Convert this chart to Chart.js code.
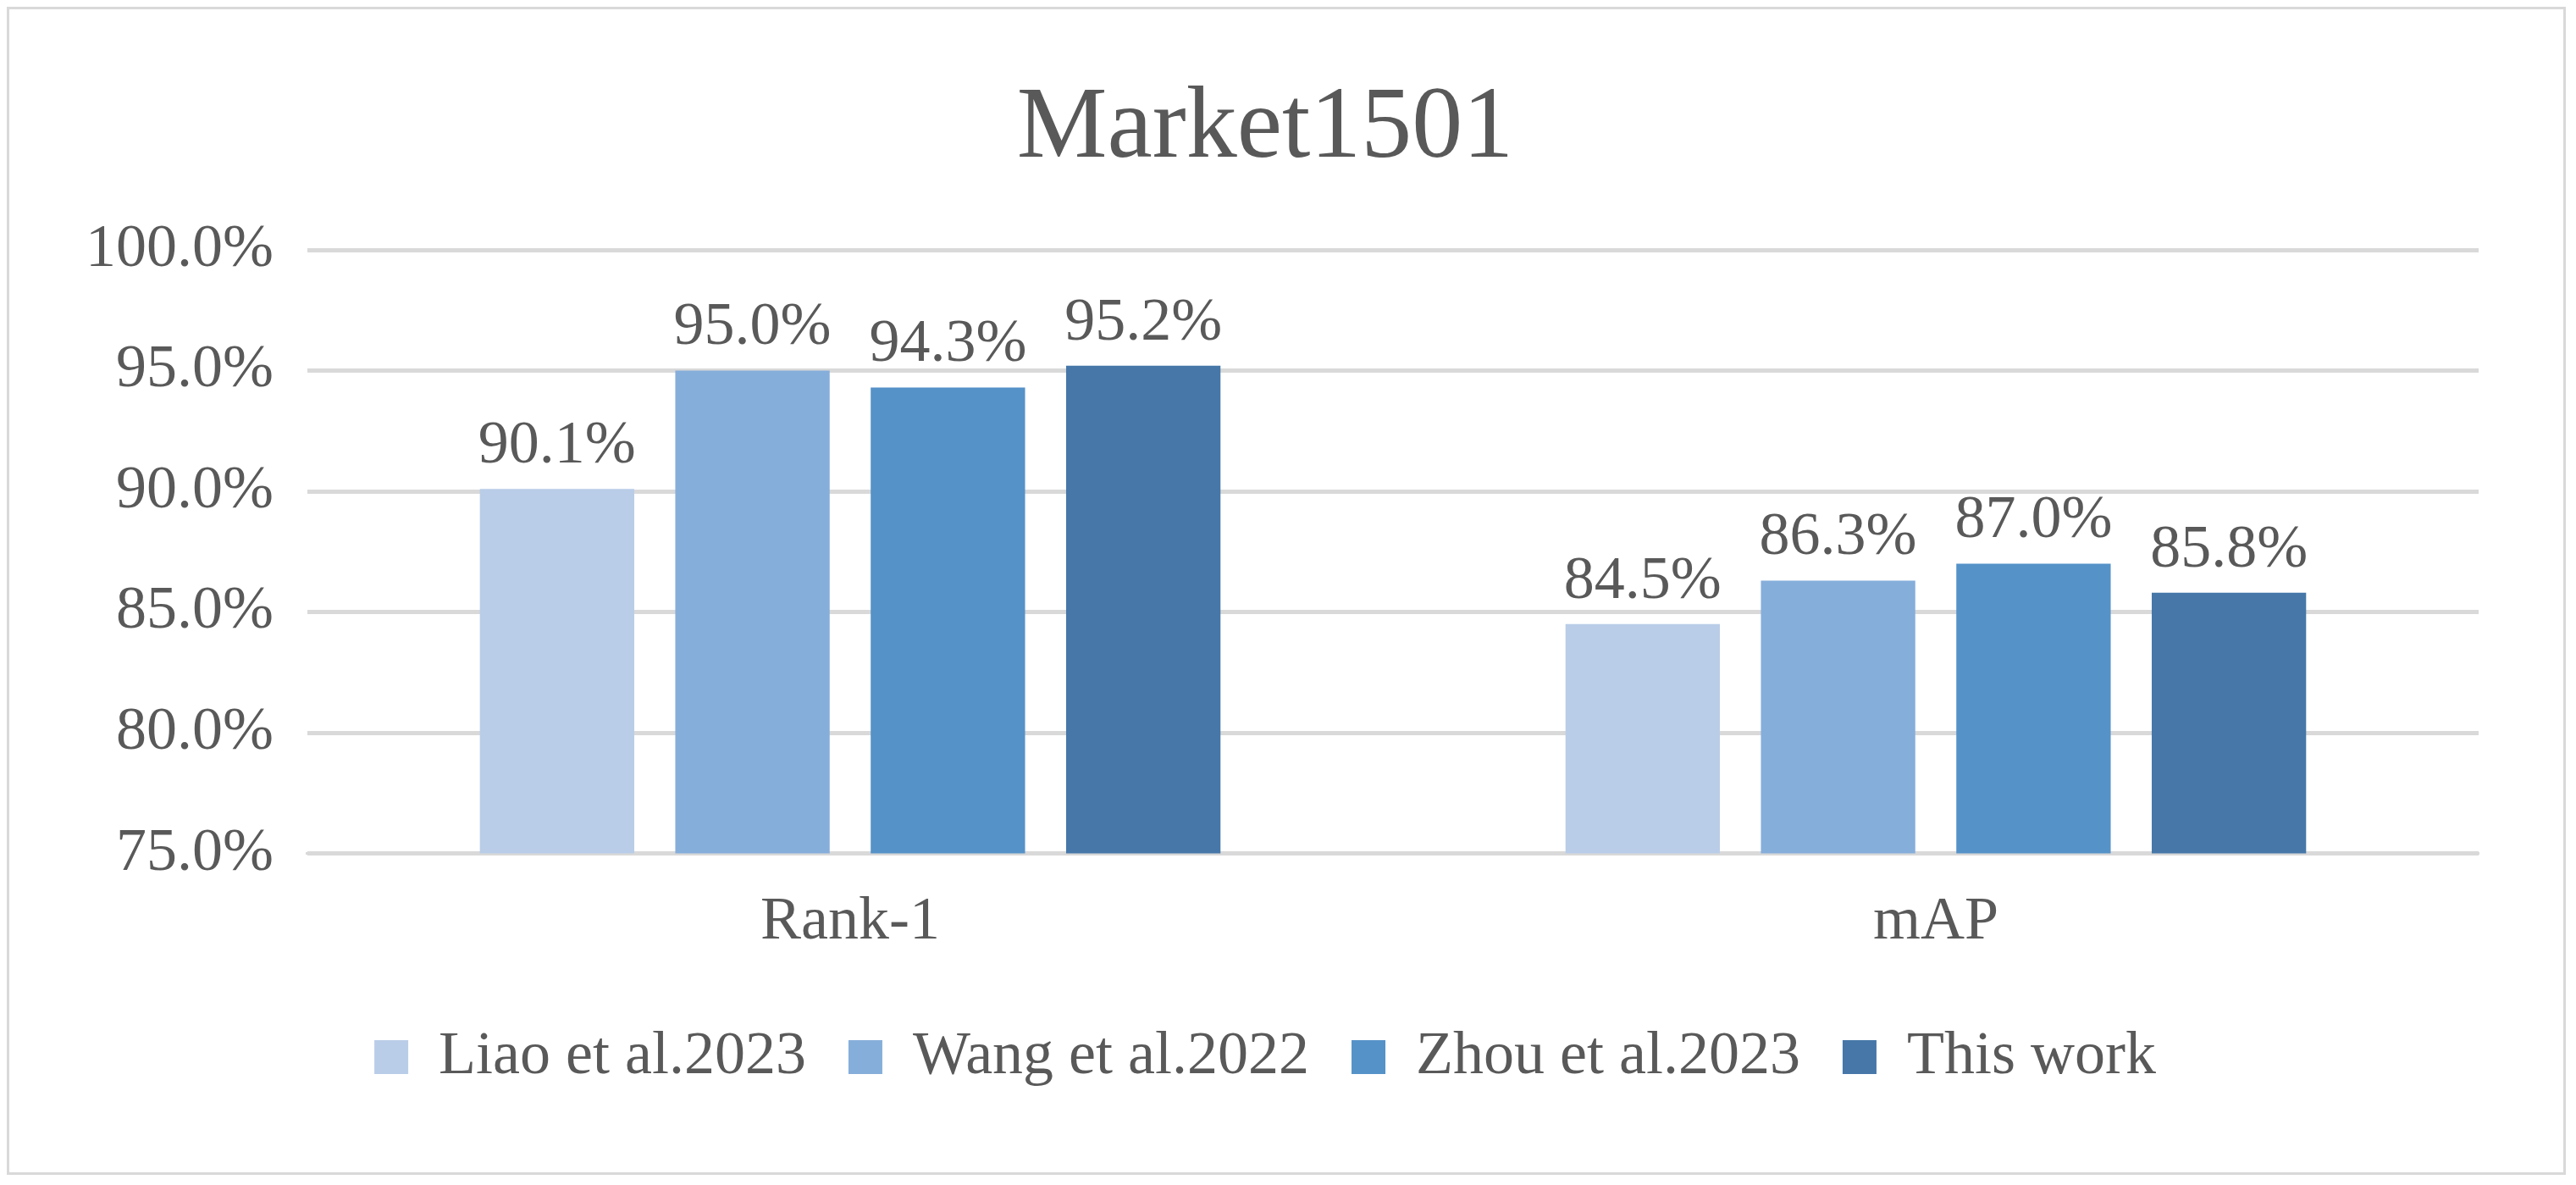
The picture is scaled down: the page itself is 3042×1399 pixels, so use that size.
<!DOCTYPE html>
<html>
<head>
<meta charset="UTF-8">
<script src="https://cdn.jsdelivr.net/npm/chart.js"></script>
<style>
  html, body { margin: 0; padding: 0; background: #fff; }
  #box { position: absolute; left: 8px; top: 8px; width: 3022px; height: 1379px; border: 3px solid #d9d9d9; box-sizing: border-box; }
</style>
</head>
<body>
<div id="box"><canvas id="c"></canvas></div>
<script>
const categories = ['Rank-1', 'mAP'];
const seriesNames = ['Liao et al.2023', 'Wang et al.2022', 'Zhou et al.2023', 'This work'];
const liao = [90.1, 84.5];
const wang = [95.0, 86.3];
const zhou = [94.3, 87.0];
const thisWork = [95.2, 85.8];
const colors = ['#B9CDE8', '#86AEDB', '#5592C8', '#4677A8'];

const font = 'Liberation Serif';
const txt = '#595959';

// value labels above bars
const barLabels = {
  id: 'barLabels',
  afterDatasetsDraw(chart) {
    const ctx = chart.ctx;
    ctx.save();
    ctx.font = '72px "' + font + '"';
    ctx.fillStyle = txt;
    ctx.textAlign = 'center';
    ctx.textBaseline = 'bottom';
    chart.data.datasets.forEach((ds, i) => {
      chart.getDatasetMeta(i).data.forEach((bar, j) => {
        ctx.fillText(ds.data[j].toFixed(1) + '%', bar.x, bar.y - 14);
      });
    });
    ctx.restore();
  }
};

const data = [liao, wang, zhou, thisWork];
new Chart(document.getElementById('c'), {
  type: 'bar',
  data: {
    labels: categories,
    datasets: seriesNames.map((n, i) => ({ label: n, data: data[i], backgroundColor: colors[i] }))
  },
  options: {
    responsive: true,
    maintainAspectRatio: false,
    animation: false,
    categoryPercentage: 0.72,
    barPercentage: 0.79,
    layout: { padding: { left: 50, right: 100, top: 20, bottom: 90 } },
    plugins: {
      title: { display: true, text: 'Market1501', color: txt, font: { family: font, size: 120, weight: 'normal' }, padding: { top: 50, bottom: 70 } },
      legend: {
        position: 'bottom',
        labels: { color: txt, font: { family: font, size: 72 }, boxWidth: 40, boxHeight: 40, padding: 50 }
      },
      tooltip: { enabled: false }
    },
    scales: {
      x: {
        grid: { display: false },
        border: { color: '#d9d9d9', width: 3 },
        ticks: { color: txt, font: { family: font, size: 72 }, padding: 30 }
      },
      y: {
        min: 75, max: 100,
        grid: { color: '#d9d9d9', lineWidth: 5, drawTicks: false },
        border: { display: false },
        ticks: { stepSize: 5, color: txt, font: { family: font, size: 72 }, padding: 40, callback: v => v.toFixed(1) + '%' }
      }
    }
  },
  plugins: [barLabels]
});
</script>
</body>
</html>
